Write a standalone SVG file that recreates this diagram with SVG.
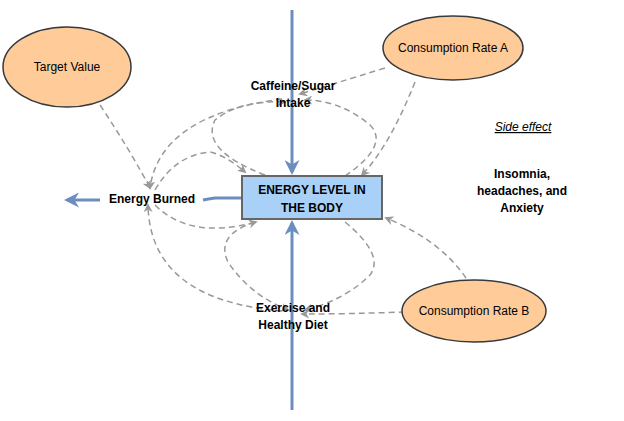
<svg xmlns="http://www.w3.org/2000/svg" width="624" height="421" viewBox="0 0 624 421">
<style>
.e{fill:#ffcc99;stroke:#36393d;stroke-width:1.5}
.t{font-family:"Comic Sans MS","Liberation Sans",sans-serif;font-size:12px;fill:#000}
.b{font-weight:bold}
.d{fill:none;stroke:#999;stroke-width:1.5;stroke-dasharray:6 4;marker-end:url(#g)}
.f{fill:none;stroke:#6c8ebf;stroke-width:3}
</style>
<defs>
<marker id="g" viewBox="0 0 10 10" refX="8" refY="5" markerWidth="6" markerHeight="6" orient="auto"><path d="M0,0L10,5L0,10L3,5z" fill="#999"/></marker>
<marker id="bl" viewBox="0 0 10 10" refX="8" refY="5" markerWidth="5" markerHeight="5" orient="auto"><path d="M0,0L10,5L0,10L3,5z" fill="#6c8ebf"/></marker>
</defs>
<g id="connectors">
<path class="f" d="M292,10V172" marker-end="url(#bl)"/>
<path class="f" d="M292,410V223" marker-end="url(#bl)"/>
<path class="f" d="M242,198H215Q208,199 203,200"/>
<path class="f" d="M100,200H67" marker-end="url(#bl)"/>
<path class="d" d="M100,105Q130,150 150,188"/>
<path class="d" d="M385,68Q330,85 300,94"/>
<path class="d" d="M415,82Q390,145 362,175"/>
<path class="d" d="M466,278Q440,240 386,218"/>
<path class="d" d="M405,312Q350,314 302,314"/>
<path class="d" d="M282,99Q160,115 150,188"/>
<path class="d" d="M282,311Q150,300 148,205"/>
<path class="d" d="M345,176Q390,145 370,125Q340,100 305,100"/>
<path class="d" d="M265,175Q200,150 215,120Q240,100 285,102"/>
<path class="d" d="M155,190Q175,155 210,152Q225,155 245,172"/>
<path class="d" d="M155,205Q190,240 256,222"/>
<path class="d" d="M255,222Q215,235 228,262Q250,295 288,310"/>
<path class="d" d="M345,222Q385,255 370,275Q345,300 305,310"/>
</g>
<g id="target"><ellipse class="e" cx="67" cy="67" rx="64" ry="40"/><text class="t" x="67" y="71" text-anchor="middle">Target Value</text></g>
<g id="rateA"><ellipse class="e" cx="453" cy="48" rx="70" ry="32"/><text class="t" x="453" y="52" text-anchor="middle">Consumption Rate A</text></g>
<g id="rateB"><ellipse class="e" cx="474" cy="311" rx="72" ry="31"/><text class="t" x="474" y="315" text-anchor="middle">Consumption Rate B</text></g>
<g id="box"><rect x="242" y="176" width="140" height="43" fill="#a9d1f7" stroke="#666" stroke-width="2"/><text class="t b" x="312" y="194" text-anchor="middle" font-size="13" fill="#333">ENERGY LEVEL IN</text><text class="t b" x="312" y="212" text-anchor="middle" font-size="13" fill="#333">THE BODY</text></g>
<g id="caffeine"><text class="t b" x="293" y="90" text-anchor="middle">Caffeine/Sugar</text><text class="t b" x="293" y="107" text-anchor="middle">Intake</text></g>
<g id="exercise"><text class="t b" x="293" y="312" text-anchor="middle">Exercise and</text><text class="t b" x="293" y="329" text-anchor="middle">Healthy Diet</text></g>
<g id="burned"><text class="t b" x="152" y="203" text-anchor="middle">Energy Burned</text></g>
<g id="side"><text class="t" x="523" y="131" text-anchor="middle" font-size="11" text-decoration="underline" font-style="italic">Side effect</text></g>
<g id="insomnia"><text class="t b" x="522" y="178" text-anchor="middle">Insomnia,</text><text class="t b" x="522" y="195" text-anchor="middle">headaches, and</text><text class="t b" x="522" y="212" text-anchor="middle">Anxiety</text></g>
</svg>
